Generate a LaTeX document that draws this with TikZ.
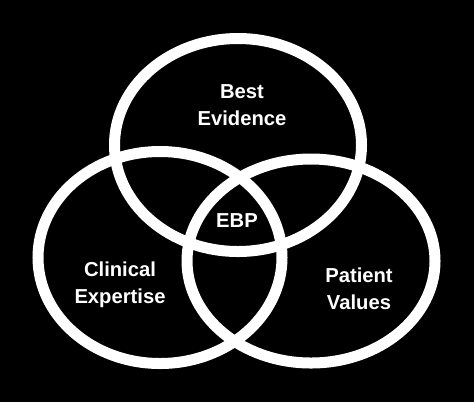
\documentclass[tikz,border=0pt]{standalone}
\usepackage{fontspec}
\setmainfont{Liberation Sans}
\tikzset{
	ring/.style={draw=white,line width=2.2mm},
	lbl/.style={text=white,font=\bfseries\fontsize{11.5}{15.5}\selectfont,align=center}
}
\begin{document}
\begin{tikzpicture}
	\fill[black] (0,0) rectangle (9.48,8.04);
	\useasboundingbox (0,0) rectangle (9.48,8.04);

	\coordinate (T) at (4.76,5.14);
	\coordinate (L) at (3.20,2.89);
	\coordinate (R) at (6.22,2.82);

	\draw[ring] (T) ellipse (2.47 and 2.13);
	\draw[ring] (L) ellipse (2.44 and 2.12);
	\draw[ring] (R) ellipse (2.48 and 2.04);

	\node[lbl] (best) at (4.84,5.93) {Best\\Evidence};
	\node[lbl] (ebp) at (4.74,3.63) {EBP};
	\node[lbl] (clin) at (2.40,2.35) {Clinical\\Expertise};
	\node[lbl] (pat) at (7.18,2.27) {Patient\\Values};
\end{tikzpicture}
\end{document}
